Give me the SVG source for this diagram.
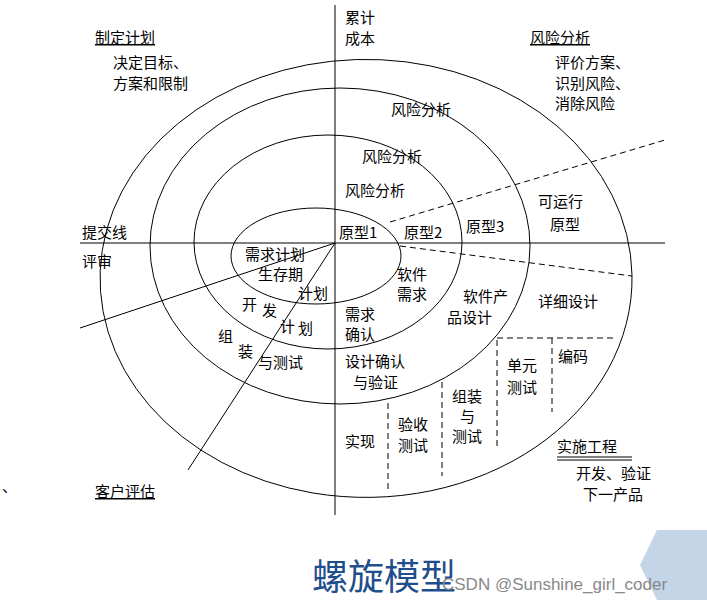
<svg xmlns="http://www.w3.org/2000/svg" width="707" height="603" viewBox="0 0 707 603">
<style>
.l{stroke:#000;stroke-width:1;fill:none}
.d{stroke:#000;stroke-width:1;fill:none;stroke-dasharray:6 4}
text{font-family:"Noto Sans CJK SC",sans-serif;font-size:15px;fill:#000}
.h{text-decoration:underline}
</style>
<rect width="707" height="603" fill="#fff"/>
<g id="connectors">
<line class="l" x1="335" y1="5" x2="335" y2="515"/>
<line class="l" x1="80" y1="243" x2="665" y2="243"/>
<ellipse class="l" cx="316" cy="256" rx="85" ry="48"/>
<ellipse class="l" cx="328" cy="242" rx="134" ry="107"/>
<ellipse class="l" cx="340" cy="246" rx="190" ry="158"/>
<path class="l" d="M313,493 A266,219 0 1 1 632,275 A266,219 0 0 1 313,493"/>
<line class="l" x1="335" y1="243" x2="80" y2="328"/>
<line class="l" x1="335" y1="243" x2="188" y2="470"/>
<line class="d" x1="390" y1="222" x2="665" y2="140"/>
<line class="d" x1="400" y1="246" x2="632" y2="276"/>
<line class="d" x1="388" y1="403" x2="388" y2="490"/>
<line class="d" x1="442" y1="382" x2="442" y2="476"/>
<line class="d" x1="497" y1="340" x2="497" y2="450"/>
<line class="d" x1="552" y1="338" x2="552" y2="412"/>
<line class="d" x1="497" y1="338" x2="615" y2="338"/>
<line class="l" x1="557" y1="457" x2="632" y2="457"/>
<line class="l" x1="557" y1="460" x2="632" y2="460"/>
</g>
<g id="labels">
<text x="95" y="43" class="h">制定计划</text>
<text x="113" y="68">决定目标、</text>
<text x="113" y="89">方案和限制</text>
<text x="345" y="23">累计</text>
<text x="345" y="44">成本</text>
<text x="530" y="43" class="h">风险分析</text>
<text x="555" y="68">评价方案、</text>
<text x="555" y="89">识别风险、</text>
<text x="555" y="109">消除风险</text>
<text x="391" y="115">风险分析</text>
<text x="362" y="162">风险分析</text>
<text x="345" y="196">风险分析</text>
<text x="339" y="238">原型1</text>
<text x="404" y="238">原型2</text>
<text x="466" y="232">原型3</text>
<text x="538" y="207">可运行</text>
<text x="550" y="230">原型</text>
<text x="82" y="238">提交线</text>
<text x="82" y="267">评审</text>
<text x="245" y="260">需求计划</text>
<text x="258" y="280">生存期</text>
<text x="298" y="299">计划</text>
<text x="242" y="310">开</text>
<text x="262" y="316">发</text>
<text x="280" y="332">计</text>
<text x="298" y="334">划</text>
<text x="218" y="342">组</text>
<text x="238" y="357">装</text>
<text x="258" y="368">与测试</text>
<text x="397" y="280">软件</text>
<text x="397" y="300">需求</text>
<text x="345" y="320">需求</text>
<text x="345" y="340">确认</text>
<text x="463" y="302">软件产</text>
<text x="447" y="323">品设计</text>
<text x="538" y="307">详细设计</text>
<text x="345" y="367">设计确认</text>
<text x="353" y="388">与验证</text>
<text x="507" y="371">单元</text>
<text x="507" y="393">测试</text>
<text x="558" y="362">编码</text>
<text x="452" y="402">组装</text>
<text x="460" y="422">与</text>
<text x="452" y="442">测试</text>
<text x="398" y="430">验收</text>
<text x="398" y="451">测试</text>
<text x="345" y="447">实现</text>
<text x="557" y="452">实施工程</text>
<text x="576" y="479">开发、验证</text>
<text x="583" y="500">下一产品</text>
<text x="95" y="497" class="h">客户评估</text>
<text x="2" y="492">、</text>
</g>
<polygon points="657,530 707,530 707,600 657,600 640,565" fill="#c5d5e8"/>
<text x="312" y="590" style="font-size:36px;fill:#1f4e8c">螺旋模型</text>
<text x="442" y="590" style="font-family:'Liberation Sans',sans-serif;font-size:17px;fill:#888">CSDN @Sunshine_girl_coder</text>
</svg>
